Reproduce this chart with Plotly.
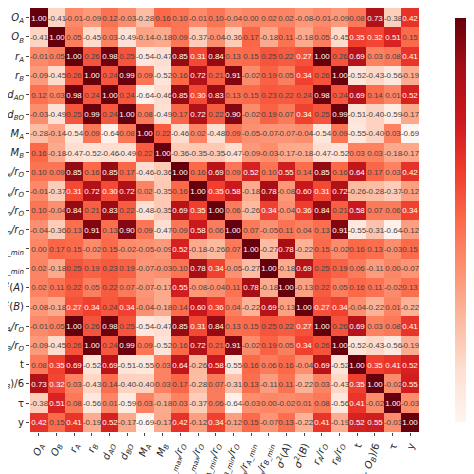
import numpy as np
import plotly.graph_objects as go

labels = ["<i>O<sub>A</sub></i>", "<i>O<sub>B</sub></i>", "<i>r<sub>A</sub></i>", "<i>r<sub>B</sub></i>",
          "<i>d<sub>AO</sub></i>", "<i>d<sub>BO</sub></i>", "<i>M<sub>A</sub></i>", "<i>M<sub>B</sub></i>",
          "<i>r<sub>A_max</sub>/r<sub>O</sub></i>", "<i>r<sub>B_max</sub>/r<sub>O</sub></i>",
          "<i>r<sub>A_min</sub>/r<sub>O</sub></i>", "<i>r<sub>B_min</sub>/r<sub>O</sub></i>",
          "<i>r<sub>A_max</sub>/r<sub>A_min</sub></i>", "<i>r<sub>B_max</sub>/r<sub>B_min</sub></i>",
          "<i>σ</i><sup>2</sup>(<i>A</i>)", "<i>σ</i><sup>2</sup>(<i>B</i>)",
          "<i>r<sub>A</sub>/r<sub>O</sub></i>", "<i>r<sub>B</sub>/r<sub>O</sub></i>",
          "t", "(<i>O<sub>A</sub></i> + <i>O<sub>B</sub></i>)/6", "τ", "y"]

# upper triangle rows (from the diagonal onward)
upper = [
    [1.00, -0.41, -0.01, -0.09, 0.12, -0.03, -0.28, 0.16, 0.10, -0.01, 0.10, -0.04, 0.00, 0.02, 0.02, -0.08, -0.01, -0.09, 0.08, 0.73, -0.38, 0.42],
    [1.00, 0.05, -0.45, 0.03, -0.49, -0.14, -0.18, 0.09, -0.37, -0.04, -0.36, 0.17, -0.18, 0.11, -0.18, 0.05, -0.45, 0.35, 0.32, 0.51, 0.15],
    [1.00, 0.26, 0.98, 0.25, -0.54, -0.47, 0.85, 0.31, 0.84, 0.13, 0.15, 0.25, 0.22, 0.27, 1.00, 0.26, 0.69, 0.03, 0.08, 0.41],
    [1.00, 0.24, 0.99, 0.09, -0.52, 0.16, 0.72, 0.21, 0.91, -0.02, 0.19, 0.05, 0.34, 0.26, 1.00, -0.52, -0.43, -0.56, -0.19],
    [1.00, 0.24, -0.64, -0.46, 0.85, 0.30, 0.83, 0.13, 0.15, 0.23, 0.22, 0.24, 0.98, 0.24, 0.69, 0.14, 0.01, 0.52],
    [1.00, 0.08, -0.49, 0.17, 0.72, 0.22, 0.90, -0.02, 0.19, 0.07, 0.34, 0.25, 0.99, -0.51, -0.40, -0.59, -0.17],
    [1.00, 0.22, -0.46, 0.02, -0.48, 0.09, -0.05, -0.07, -0.07, -0.04, -0.54, 0.09, -0.55, -0.40, 0.03, -0.69],
    [1.00, -0.36, -0.35, -0.35, -0.47, -0.09, -0.03, -0.17, -0.18, -0.47, -0.52, 0.03, 0.03, -0.18, -0.17],
    [1.00, 0.16, 0.69, 0.09, 0.52, 0.10, 0.55, 0.14, 0.85, 0.16, 0.64, 0.17, 0.03, 0.42],
    [1.00, 0.35, 0.58, -0.18, 0.78, -0.08, 0.60, 0.31, 0.72, -0.26, -0.28, -0.37, -0.12],
    [1.00, 0.06, -0.26, 0.34, -0.04, 0.36, 0.84, 0.21, 0.58, 0.07, 0.06, 0.34],
    [1.00, 0.07, -0.05, 0.11, 0.04, 0.13, 0.91, -0.55, -0.31, -0.64, -0.12],
    [1.00, -0.27, 0.78, -0.22, 0.15, -0.02, 0.16, 0.13, -0.03, 0.15],
    [1.00, -0.18, 0.69, 0.25, 0.19, 0.06, -0.11, 0.00, -0.07],
    [1.00, -0.13, 0.22, 0.05, 0.16, 0.11, -0.02, 0.13],
    [1.00, 0.27, 0.34, -0.04, -0.22, 0.01, -0.22],
    [1.00, 0.26, 0.69, 0.03, 0.08, 0.41],
    [1.00, -0.52, -0.43, -0.56, -0.19],
    [1.00, 0.35, 0.41, 0.52],
    [1.00, -0.02, 0.55],
    [1.00, -0.03],
    [1.00],
]

n = len(labels)
corr = np.zeros((n, n))
for i, row in enumerate(upper):
    for k, v in enumerate(row):
        corr[i, i + k] = v
        corr[i + k, i] = v

reds = [[0, "#fff5f0"], [0.125, "#fee0d2"], [0.25, "#fcbba1"], [0.375, "#fc9272"],
        [0.5, "#fb6a4a"], [0.625, "#ef3b2c"], [0.75, "#cb181d"], [0.875, "#a50f15"], [1, "#67000d"]]

idx = list(range(n))
fig = go.Figure(go.Heatmap(
    z=corr, x=idx, y=idx, colorscale=reds, zmin=-0.69, zmax=1.0,
    texttemplate="%{z:.2f}", textfont=dict(size=8, family="Liberation Sans"),
    colorbar=dict(x=0.965, xanchor="left", len=1.0, y=1, yanchor="top",
                  thickness=17, showticklabels=False, ticks="", outlinewidth=0),
))
fig.update_xaxes(tickvals=idx, ticktext=labels, tickangle=-70, ticks="outside", ticklen=3,
                 showgrid=False, zeroline=False, automargin=False,
                 tickfont=dict(size=10, family="DejaVu Sans", color="#222"), domain=[0, 0.905])
fig.update_yaxes(tickvals=idx, ticktext=labels, autorange="reversed", ticks="outside", ticklen=3,
                 showgrid=False, zeroline=False, automargin=False,
                 tickfont=dict(size=10, family="DejaVu Sans", color="#222"))
fig.update_layout(width=474, height=474, margin=dict(l=22, r=0, t=0, b=50),
                  plot_bgcolor="white", paper_bgcolor="white")
fig.write_html("out.html")
